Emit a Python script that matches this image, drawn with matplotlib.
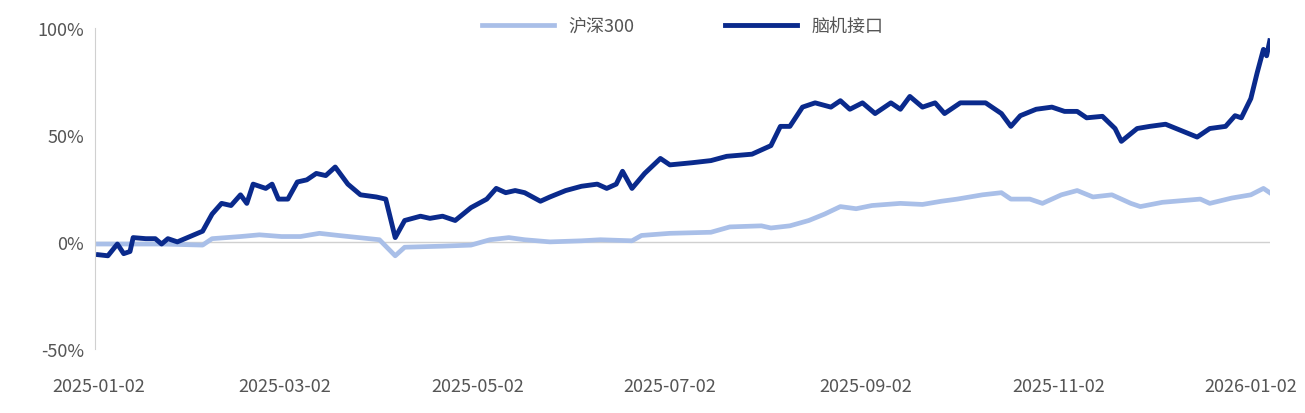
import matplotlib
matplotlib.use("Agg")
import matplotlib.pyplot as plt
import matplotlib.dates as mdates
import pandas as pd

plt.rcParams['font.family'] = ['Noto Sans CJK SC', 'DejaVu Sans']

start = pd.Timestamp('2025-01-02')
dark_days = [0,3,6,8,10,11,15,18,20,22,25,33,36,39,42,45,47,49,53,55,57,60,63,66,69,72,75,79,83,88,91,94,97,102,105,109,113,118,123,126,129,132,135,140,143,148,153,158,161,164,166,169,173,178,181,188,194,199,207,213,216,219,223,227,232,235,238,242,246,251,254,257,261,265,268,273,278,281,286,289,292,297,302,306,310,313,318,322,324,329,333,338,343,348,352,357,360,362,365,367,369,370,371]
dark_vals = [-6,-6.5,-1,-5.5,-4.5,2,1.5,1.5,-1,1.5,0,5,13,18,17,22,18,27,25,27,20,20,28,29,32,31,35,27,22,21,20,2,10,12,11,12,10,16,20,25,23,24,23,19,21,24,26,27,25,27,33,25,32,39,36,37,38,40,41,45,54,54,63,65,63,66,62,65,60,65,62,68,63,65,60,65,65,65,60,54,59,62,63,61,61,58,58.7,53,47,53,54,55,52,49,53,54,59,58,67,79,90,87,94]
light_days = [0,10,20,33,36,45,51,58,64,70,76,89,94,97,109,118,124,130,135,143,153,159,169,172,181,194,200,210,213,219,225,230,235,240,245,254,261,267,272,280,286,289,295,299,305,310,315,321,327,330,337,341,349,352,359,365,369,371]
light_vals = [-1,-1,-1,-1.5,1.5,2.5,3.3,2.5,2.5,4,3,1,-6.5,-2.5,-2,-1.5,1,2,1,0,0.5,1,0.5,3,4,4.5,7,7.5,6.5,7.5,10,13,16.5,15.5,17,18,17.5,19,20,22,23,20,20,18,22,24,21,22,18,16.5,18.5,19,20,18,20.5,22,25,23]

dark_dates = [start + pd.Timedelta(days=d) for d in dark_days]
light_dates = [start + pd.Timedelta(days=d) for d in light_days]

fig = plt.figure(figsize=(13.05, 4.14), dpi=100)
ax = fig.add_axes([0.073, 0.155, 0.90, 0.775])
ax.plot(light_dates, light_vals, color='#a9bfe8', lw=3.4, label='沪深300', solid_joinstyle='round')
ax.plot(dark_dates, dark_vals, color='#0a2a8c', lw=3.5, label='脑机接口', solid_joinstyle='round')
ax.axhline(0, color='#d0d0d0', lw=1, zorder=0)
ax.set_ylim(-50, 100)
ax.set_yticks([-50, 0, 50, 100])
ax.set_yticklabels(['-50%', '0%', '50%', '100%'])
ticks = pd.to_datetime(['2025-01-02','2025-03-02','2025-05-02','2025-07-02','2025-09-02','2025-11-02','2026-01-02'])
ax.set_xticks(ticks)
ax.xaxis.set_major_formatter(mdates.DateFormatter('%Y-%m-%d'))
ax.set_xlim(start - pd.Timedelta(days=1), pd.Timestamp('2026-01-08'))
for s in ['top', 'right', 'bottom']:
    ax.spines[s].set_visible(False)
ax.spines['left'].set_color('#d0d0d0')
ax.tick_params(length=0, labelsize=13, colors='#555555', pad=8)
ax.tick_params(axis='x', pad=20)
leg = ax.legend(loc='upper center', bbox_to_anchor=(0.5, 1.085), ncol=2, frameon=False,
                fontsize=13, handlelength=4, columnspacing=5)
for t in leg.get_texts():
    t.set_color('#555555')
fig.savefig('out.png', dpi=100)
